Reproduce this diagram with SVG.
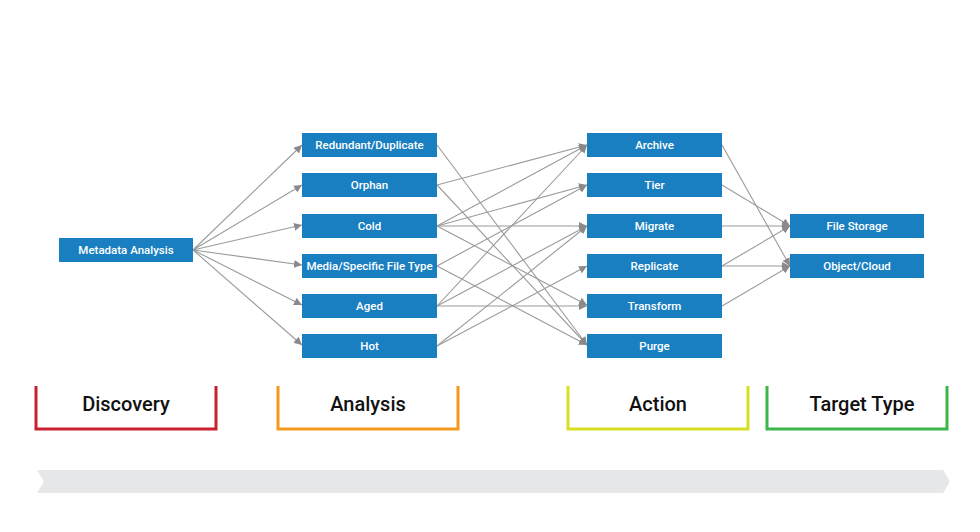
<svg xmlns="http://www.w3.org/2000/svg" width="980" height="532" viewBox="0 0 980 532">
<style>
.b{fill:#1a7fc1}
.t{font-family:Roboto,"Liberation Sans",sans-serif;font-size:11.5px;font-weight:500;fill:#fff;text-anchor:middle}
.c line{stroke:#9a9a9a;stroke-width:1.1;marker-end:url(#a)}
.br{fill:none;stroke-width:3}
.l{font-family:Roboto,"Liberation Sans",sans-serif;font-size:20px;font-weight:500;fill:#111;text-anchor:middle}
</style>
<defs><marker id="a" viewBox="0 0 10 10" refX="10" refY="5" markerWidth="8" markerHeight="8" markerUnits="userSpaceOnUse" orient="auto"><path d="M0,0L10,5L0,10z" fill="#8a8a8a"/></marker></defs>
<rect width="980" height="532" fill="#fff"/>
<g class="c">
<line x1="193" y1="250" x2="302" y2="145"/><line x1="193" y1="250" x2="302" y2="185"/><line x1="193" y1="250" x2="302" y2="225"/><line x1="193" y1="250" x2="302" y2="265"/><line x1="193" y1="250" x2="302" y2="305"/><line x1="193" y1="250" x2="302" y2="345"/>
<line x1="437" y1="145" x2="587" y2="345"/>
<line x1="437" y1="185" x2="587" y2="145"/><line x1="437" y1="185" x2="587" y2="345"/>
<line x1="437" y1="226" x2="587" y2="145"/><line x1="437" y1="226" x2="587" y2="185"/><line x1="437" y1="226" x2="587" y2="226"/><line x1="437" y1="226" x2="587" y2="305"/>
<line x1="437" y1="266" x2="587" y2="185"/><line x1="437" y1="266" x2="587" y2="345"/>
<line x1="437" y1="306" x2="587" y2="145"/><line x1="437" y1="306" x2="587" y2="226"/><line x1="437" y1="306" x2="587" y2="306"/>
<line x1="437" y1="346" x2="587" y2="226"/><line x1="437" y1="346" x2="587" y2="266"/>
<line x1="722" y1="145" x2="790" y2="266"/><line x1="722" y1="185" x2="790" y2="226"/><line x1="722" y1="226" x2="790" y2="226"/><line x1="722" y1="266" x2="790" y2="226"/><line x1="722" y1="266" x2="790" y2="266"/><line x1="722" y1="306" x2="790" y2="266"/>
</g>
<g id="metadata"><rect class="b" x="59" y="238" width="134" height="24"/><text class="t" x="126" y="254">Metadata Analysis</text></g>
<g id="redundant"><rect class="b" x="302" y="133" width="135" height="24"/><text class="t" x="369.5" y="149">Redundant/Duplicate</text></g>
<g id="orphan"><rect class="b" x="302" y="173" width="135" height="24"/><text class="t" x="369.5" y="189">Orphan</text></g>
<g id="cold"><rect class="b" x="302" y="214" width="135" height="24"/><text class="t" x="369.5" y="230">Cold</text></g>
<g id="media"><rect class="b" x="302" y="254" width="135" height="24"/><text class="t" x="369.5" y="270">Media/Specific File Type</text></g>
<g id="aged"><rect class="b" x="302" y="294" width="135" height="24"/><text class="t" x="369.5" y="310">Aged</text></g>
<g id="hot"><rect class="b" x="302" y="334" width="135" height="24"/><text class="t" x="369.5" y="350">Hot</text></g>
<g id="archive"><rect class="b" x="587" y="133" width="135" height="24"/><text class="t" x="654.5" y="149">Archive</text></g>
<g id="tier"><rect class="b" x="587" y="173" width="135" height="24"/><text class="t" x="654.5" y="189">Tier</text></g>
<g id="migrate"><rect class="b" x="587" y="214" width="135" height="24"/><text class="t" x="654.5" y="230">Migrate</text></g>
<g id="replicate"><rect class="b" x="587" y="254" width="135" height="24"/><text class="t" x="654.5" y="270">Replicate</text></g>
<g id="transform"><rect class="b" x="587" y="294" width="135" height="24"/><text class="t" x="654.5" y="310">Transform</text></g>
<g id="purge"><rect class="b" x="587" y="334" width="135" height="24"/><text class="t" x="654.5" y="350">Purge</text></g>
<g id="filestorage"><rect class="b" x="790" y="214" width="134" height="24"/><text class="t" x="857" y="230">File Storage</text></g>
<g id="objectcloud"><rect class="b" x="790" y="254" width="134" height="24"/><text class="t" x="857" y="270">Object/Cloud</text></g>
<g id="discovery"><path class="br" stroke="#c8202f" d="M36,386V429H216V386"/><text class="l" x="126" y="411">Discovery</text></g>
<g id="analysis"><path class="br" stroke="#f39a1e" d="M278,386V429H458V386"/><text class="l" x="368" y="411">Analysis</text></g>
<g id="action"><path class="br" stroke="#d7df23" d="M568,386V429H748V386"/><text class="l" x="658" y="411">Action</text></g>
<g id="target"><path class="br" stroke="#3cb54a" d="M767,386V429H947V386"/><text class="l" x="862" y="411">Target Type</text></g>
<path d="M37,470H943L950,481.5L943,493H37L44,481.5Z" fill="#e6e7e8"/>
</svg>
